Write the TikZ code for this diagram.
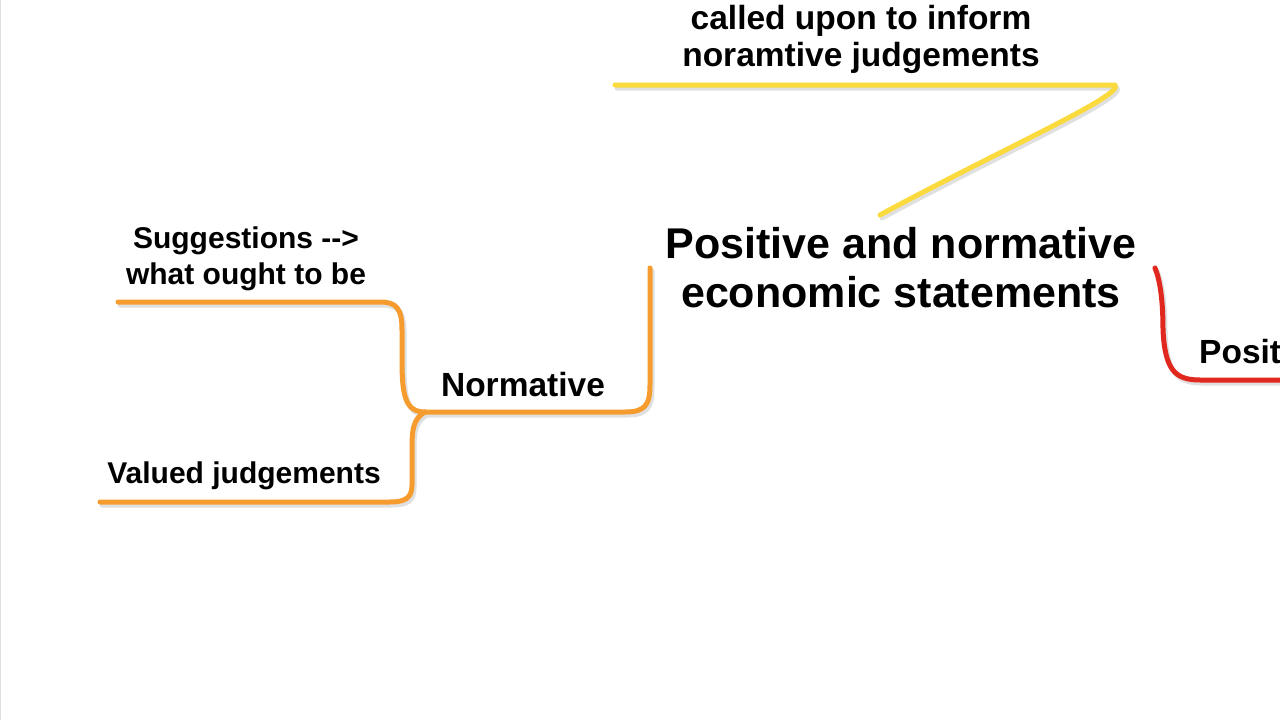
\documentclass[tikz,border=0pt]{standalone}
\usepackage{fontspec}
\setmainfont{Liberation Sans}
\begin{document}
\begin{tikzpicture}[x=1pt,y=-1pt,
  br/.style={line width=5pt,line cap=round,line join=round},
  lbl/.style={font=\bfseries\fontsize{33.5}{37}\selectfont,align=center,inner sep=0pt},
  slbl/.style={font=\bfseries\fontsize{30}{36}\selectfont,align=center,inner sep=0pt},
  ttl/.style={font=\bfseries\fontsize{43}{49}\selectfont,align=center,inner sep=0pt}]
\useasboundingbox (0,0) rectangle (1280,720);
\clip (0,0) rectangle (1280,720);
\fill[white] (0,0) rectangle (1280,720);
\draw[black!12] (0.5,0) -- (0.5,720);
% nodes
\node[ttl] (c) at (901,268) {Positive and normative\\economic statements};
\node[lbl] (y) at (861,39) {called upon to inform\\noramtive judgements};
\node[lbl] (n) at (523,385) {Normative};
\node[slbl] (s) at (246,259) {Suggestions -{}->\\what ought to be};
\node[slbl] (v) at (244,476) {Valued judgements};
\node[lbl,anchor=west] (p) at (1199,352) {Positive};
\coordinate (ya) at (615,85); \coordinate (yb) at (1115,85); \coordinate (yc) at (880,215);
\coordinate (o1) at (650,268); \coordinate (o2) at (425,412);
\coordinate (sa) at (118,302); \coordinate (va) at (100,502);
\coordinate (r1) at (1155,268); \coordinate (r2) at (1285,380);
% shadows
\begin{scope}[transform canvas={xshift=2pt,yshift=-3pt}]
\draw[br,black!12] (ya) -- (yb) .. controls (1125,95) and (1000,150) .. (yc);
\draw[br,black!12] (o1) -- (650,385) .. controls (650,405) and (645,412) .. (625,412) -- (o2);
\draw[br,black!12] (o2) .. controls (405,412) and (402,395) .. (402,360) -- (402,330) .. controls (402,308) and (396,302) .. (380,302) -- (sa);
\draw[br,black!12] (o2) .. controls (412,420) and (412,430) .. (412,455) -- (412,485) .. controls (412,498) and (405,502) .. (390,502) -- (va);
\draw[br,black!12] (r1) .. controls (1160,280) and (1163,300) .. (1163,330) .. controls (1165,370) and (1175,380) .. (1200,380) -- (r2);
\end{scope}
\draw[br,draw={rgb,255:red,250;green,218;blue,60}] (ya) -- (yb) .. controls (1125,95) and (1000,150) .. (yc);
\begin{scope}[draw={rgb,255:red,246;green,156;blue,46}]
\draw[br] (o1) -- (650,385) .. controls (650,405) and (645,412) .. (625,412) -- (o2);
\draw[br] (o2) .. controls (405,412) and (402,395) .. (402,360) -- (402,330) .. controls (402,308) and (396,302) .. (380,302) -- (sa);
\draw[br] (o2) .. controls (412,420) and (412,430) .. (412,455) -- (412,485) .. controls (412,498) and (405,502) .. (390,502) -- (va);
\end{scope}
\draw[br,draw={rgb,255:red,225;green,40;blue,30}] (r1) .. controls (1160,280) and (1163,300) .. (1163,330) .. controls (1165,370) and (1175,380) .. (1200,380) -- (r2);
\end{tikzpicture}
\end{document}
